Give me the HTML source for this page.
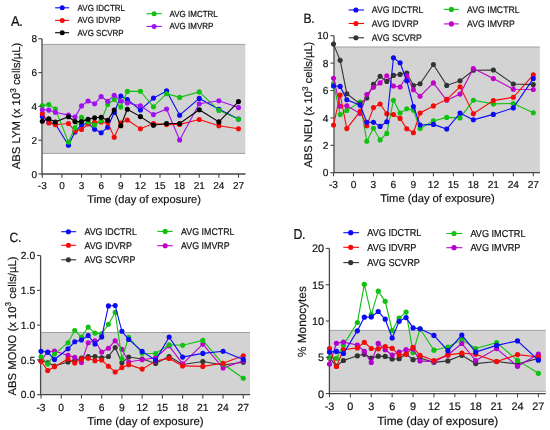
<!DOCTYPE html>
<html><head><meta charset="utf-8"><style>
html,body{margin:0;padding:0;background:#fff;width:550px;height:430px;overflow:hidden}
svg{display:block;will-change:transform}
text{text-rendering:geometricPrecision;font-family:"Liberation Sans",sans-serif;fill:#111;stroke:#111;stroke-width:0.18px}
</style></head><body>
<svg width="550" height="430" viewBox="0 0 550 430">
<rect x="42.6" y="44.4" width="202.7" height="109" fill="#d3d3d3"/>
<line x1="42.6" y1="44.4" x2="245.3" y2="44.4" stroke="#a0a0a0" stroke-width="1"/>
<line x1="42.6" y1="153.4" x2="245.3" y2="153.4" stroke="#a0a0a0" stroke-width="1"/>
<path d="M42,38.8V174H245.5" fill="none" stroke="#474747" stroke-width="1.3"/>
<polyline points="42.3,116.4 48.84,122 55.38,124 68.46,145.2 75,131.9 81.54,124.9 88.08,123 94.62,129.2 101.16,132.7 107.7,127.3 114.24,112.5 120.78,96 127.32,99.5 140.4,110 153.48,98.1 166.56,90.9 179.64,115.2 199.26,98.4 218.88,109.3 238.5,119" fill="none" stroke="#0a0af5" stroke-width="1.1"/>
<circle cx="42.3" cy="116.4" r="2.55" fill="#0a0af5"/>
<circle cx="48.84" cy="122" r="2.55" fill="#0a0af5"/>
<circle cx="55.38" cy="124" r="2.55" fill="#0a0af5"/>
<circle cx="68.46" cy="145.2" r="2.55" fill="#0a0af5"/>
<circle cx="75" cy="131.9" r="2.55" fill="#0a0af5"/>
<circle cx="81.54" cy="124.9" r="2.55" fill="#0a0af5"/>
<circle cx="88.08" cy="123" r="2.55" fill="#0a0af5"/>
<circle cx="94.62" cy="129.2" r="2.55" fill="#0a0af5"/>
<circle cx="101.16" cy="132.7" r="2.55" fill="#0a0af5"/>
<circle cx="107.7" cy="127.3" r="2.55" fill="#0a0af5"/>
<circle cx="114.24" cy="112.5" r="2.55" fill="#0a0af5"/>
<circle cx="120.78" cy="96" r="2.55" fill="#0a0af5"/>
<circle cx="127.32" cy="99.5" r="2.55" fill="#0a0af5"/>
<circle cx="140.4" cy="110" r="2.55" fill="#0a0af5"/>
<circle cx="153.48" cy="98.1" r="2.55" fill="#0a0af5"/>
<circle cx="166.56" cy="90.9" r="2.55" fill="#0a0af5"/>
<circle cx="179.64" cy="115.2" r="2.55" fill="#0a0af5"/>
<circle cx="199.26" cy="98.4" r="2.55" fill="#0a0af5"/>
<circle cx="218.88" cy="109.3" r="2.55" fill="#0a0af5"/>
<circle cx="238.5" cy="119" r="2.55" fill="#0a0af5"/>
<polyline points="42.3,113.6 48.84,123 55.38,124.8 68.46,123.5 75,130.9 81.54,129.5 88.08,124 94.62,122.2 101.16,122 107.7,122.8 114.24,137.2 120.78,123 127.32,120 140.4,128.7 153.48,123.5 166.56,124.6 179.64,124.4 199.26,119.5 218.88,125.8 238.5,128.8" fill="none" stroke="#f50a0a" stroke-width="1.1"/>
<circle cx="42.3" cy="113.6" r="2.55" fill="#f50a0a"/>
<circle cx="48.84" cy="123" r="2.55" fill="#f50a0a"/>
<circle cx="55.38" cy="124.8" r="2.55" fill="#f50a0a"/>
<circle cx="68.46" cy="123.5" r="2.55" fill="#f50a0a"/>
<circle cx="75" cy="130.9" r="2.55" fill="#f50a0a"/>
<circle cx="81.54" cy="129.5" r="2.55" fill="#f50a0a"/>
<circle cx="88.08" cy="124" r="2.55" fill="#f50a0a"/>
<circle cx="94.62" cy="122.2" r="2.55" fill="#f50a0a"/>
<circle cx="101.16" cy="122" r="2.55" fill="#f50a0a"/>
<circle cx="107.7" cy="122.8" r="2.55" fill="#f50a0a"/>
<circle cx="114.24" cy="137.2" r="2.55" fill="#f50a0a"/>
<circle cx="120.78" cy="123" r="2.55" fill="#f50a0a"/>
<circle cx="127.32" cy="120" r="2.55" fill="#f50a0a"/>
<circle cx="140.4" cy="128.7" r="2.55" fill="#f50a0a"/>
<circle cx="153.48" cy="123.5" r="2.55" fill="#f50a0a"/>
<circle cx="166.56" cy="124.6" r="2.55" fill="#f50a0a"/>
<circle cx="179.64" cy="124.4" r="2.55" fill="#f50a0a"/>
<circle cx="199.26" cy="119.5" r="2.55" fill="#f50a0a"/>
<circle cx="218.88" cy="125.8" r="2.55" fill="#f50a0a"/>
<circle cx="238.5" cy="128.8" r="2.55" fill="#f50a0a"/>
<polyline points="42.3,105.6 48.84,104.5 55.38,109.1 68.46,142.1 75,127.7 81.54,117.3 88.08,122 94.62,125.1 101.16,120.8 107.7,104.5 114.24,99.5 120.78,107.1 127.32,91.4 140.4,91.2 153.48,106.8 166.56,93.7 179.64,97.4 199.26,91.9 218.88,110.4 238.5,119.3" fill="none" stroke="#12c012" stroke-width="1.1"/>
<circle cx="42.3" cy="105.6" r="2.55" fill="#12c012"/>
<circle cx="48.84" cy="104.5" r="2.55" fill="#12c012"/>
<circle cx="55.38" cy="109.1" r="2.55" fill="#12c012"/>
<circle cx="68.46" cy="142.1" r="2.55" fill="#12c012"/>
<circle cx="75" cy="127.7" r="2.55" fill="#12c012"/>
<circle cx="81.54" cy="117.3" r="2.55" fill="#12c012"/>
<circle cx="88.08" cy="122" r="2.55" fill="#12c012"/>
<circle cx="94.62" cy="125.1" r="2.55" fill="#12c012"/>
<circle cx="101.16" cy="120.8" r="2.55" fill="#12c012"/>
<circle cx="107.7" cy="104.5" r="2.55" fill="#12c012"/>
<circle cx="114.24" cy="99.5" r="2.55" fill="#12c012"/>
<circle cx="120.78" cy="107.1" r="2.55" fill="#12c012"/>
<circle cx="127.32" cy="91.4" r="2.55" fill="#12c012"/>
<circle cx="140.4" cy="91.2" r="2.55" fill="#12c012"/>
<circle cx="153.48" cy="106.8" r="2.55" fill="#12c012"/>
<circle cx="166.56" cy="93.7" r="2.55" fill="#12c012"/>
<circle cx="179.64" cy="97.4" r="2.55" fill="#12c012"/>
<circle cx="199.26" cy="91.9" r="2.55" fill="#12c012"/>
<circle cx="218.88" cy="110.4" r="2.55" fill="#12c012"/>
<circle cx="238.5" cy="119.3" r="2.55" fill="#12c012"/>
<polyline points="42.3,109.8 48.84,110.1 55.38,112.2 68.46,115.1 75,117 81.54,105.9 88.08,101 94.62,103.8 101.16,96.6 107.7,101.3 114.24,95.2 120.78,101 127.32,103 140.4,105.8 153.48,114.6 166.56,109 179.64,140 199.26,103.7 218.88,100.7 238.5,107.6" fill="none" stroke="#a010f0" stroke-width="1.1"/>
<circle cx="42.3" cy="109.8" r="2.55" fill="#a010f0"/>
<circle cx="48.84" cy="110.1" r="2.55" fill="#a010f0"/>
<circle cx="55.38" cy="112.2" r="2.55" fill="#a010f0"/>
<circle cx="68.46" cy="115.1" r="2.55" fill="#a010f0"/>
<circle cx="75" cy="117" r="2.55" fill="#a010f0"/>
<circle cx="81.54" cy="105.9" r="2.55" fill="#a010f0"/>
<circle cx="88.08" cy="101" r="2.55" fill="#a010f0"/>
<circle cx="94.62" cy="103.8" r="2.55" fill="#a010f0"/>
<circle cx="101.16" cy="96.6" r="2.55" fill="#a010f0"/>
<circle cx="107.7" cy="101.3" r="2.55" fill="#a010f0"/>
<circle cx="114.24" cy="95.2" r="2.55" fill="#a010f0"/>
<circle cx="120.78" cy="101" r="2.55" fill="#a010f0"/>
<circle cx="127.32" cy="103" r="2.55" fill="#a010f0"/>
<circle cx="140.4" cy="105.8" r="2.55" fill="#a010f0"/>
<circle cx="153.48" cy="114.6" r="2.55" fill="#a010f0"/>
<circle cx="166.56" cy="109" r="2.55" fill="#a010f0"/>
<circle cx="179.64" cy="140" r="2.55" fill="#a010f0"/>
<circle cx="199.26" cy="103.7" r="2.55" fill="#a010f0"/>
<circle cx="218.88" cy="100.7" r="2.55" fill="#a010f0"/>
<circle cx="238.5" cy="107.6" r="2.55" fill="#a010f0"/>
<polyline points="42.3,121.3 48.84,118.8 55.38,122 68.46,116.7 75,121.6 81.54,121.6 88.08,119.2 94.62,117.8 101.16,117.3 107.7,120.2 114.24,110 120.78,125.8 127.32,109.2 140.4,116.6 153.48,125.3 166.56,123.5 179.64,123.5 199.26,109.7 218.88,121.9 238.5,101.6" fill="none" stroke="#000000" stroke-width="1.1"/>
<circle cx="42.3" cy="121.3" r="2.55" fill="#000000"/>
<circle cx="48.84" cy="118.8" r="2.55" fill="#000000"/>
<circle cx="55.38" cy="122" r="2.55" fill="#000000"/>
<circle cx="68.46" cy="116.7" r="2.55" fill="#000000"/>
<circle cx="75" cy="121.6" r="2.55" fill="#000000"/>
<circle cx="81.54" cy="121.6" r="2.55" fill="#000000"/>
<circle cx="88.08" cy="119.2" r="2.55" fill="#000000"/>
<circle cx="94.62" cy="117.8" r="2.55" fill="#000000"/>
<circle cx="101.16" cy="117.3" r="2.55" fill="#000000"/>
<circle cx="107.7" cy="120.2" r="2.55" fill="#000000"/>
<circle cx="114.24" cy="110" r="2.55" fill="#000000"/>
<circle cx="120.78" cy="125.8" r="2.55" fill="#000000"/>
<circle cx="127.32" cy="109.2" r="2.55" fill="#000000"/>
<circle cx="140.4" cy="116.6" r="2.55" fill="#000000"/>
<circle cx="153.48" cy="125.3" r="2.55" fill="#000000"/>
<circle cx="166.56" cy="123.5" r="2.55" fill="#000000"/>
<circle cx="179.64" cy="123.5" r="2.55" fill="#000000"/>
<circle cx="199.26" cy="109.7" r="2.55" fill="#000000"/>
<circle cx="218.88" cy="121.9" r="2.55" fill="#000000"/>
<circle cx="238.5" cy="101.6" r="2.55" fill="#000000"/>
<line x1="38.4" y1="174" x2="42" y2="174" stroke="#474747" stroke-width="1.1"/>
<text x="37" y="177.58" font-size="10.0" text-anchor="end">0</text>
<line x1="38.4" y1="140.2" x2="42" y2="140.2" stroke="#474747" stroke-width="1.1"/>
<text x="37" y="143.78" font-size="10.0" text-anchor="end">2</text>
<line x1="38.4" y1="106.4" x2="42" y2="106.4" stroke="#474747" stroke-width="1.1"/>
<text x="37" y="109.98" font-size="10.0" text-anchor="end">4</text>
<line x1="38.4" y1="72.6" x2="42" y2="72.6" stroke="#474747" stroke-width="1.1"/>
<text x="37" y="76.18" font-size="10.0" text-anchor="end">6</text>
<line x1="38.4" y1="38.8" x2="42" y2="38.8" stroke="#474747" stroke-width="1.1"/>
<text x="37" y="42.38" font-size="10.0" text-anchor="end">8</text>
<line x1="42.3" y1="174" x2="42.3" y2="177.7" stroke="#474747" stroke-width="1.1"/>
<text x="42.3" y="188.58" font-size="10.0" text-anchor="middle">-3</text>
<line x1="61.92" y1="174" x2="61.92" y2="177.7" stroke="#474747" stroke-width="1.1"/>
<text x="61.92" y="188.58" font-size="10.0" text-anchor="middle">0</text>
<line x1="81.54" y1="174" x2="81.54" y2="177.7" stroke="#474747" stroke-width="1.1"/>
<text x="81.54" y="188.58" font-size="10.0" text-anchor="middle">3</text>
<line x1="101.16" y1="174" x2="101.16" y2="177.7" stroke="#474747" stroke-width="1.1"/>
<text x="101.16" y="188.58" font-size="10.0" text-anchor="middle">6</text>
<line x1="120.78" y1="174" x2="120.78" y2="177.7" stroke="#474747" stroke-width="1.1"/>
<text x="120.78" y="188.58" font-size="10.0" text-anchor="middle">9</text>
<line x1="140.4" y1="174" x2="140.4" y2="177.7" stroke="#474747" stroke-width="1.1"/>
<text x="140.4" y="188.58" font-size="10.0" text-anchor="middle">12</text>
<line x1="160.02" y1="174" x2="160.02" y2="177.7" stroke="#474747" stroke-width="1.1"/>
<text x="160.02" y="188.58" font-size="10.0" text-anchor="middle">15</text>
<line x1="179.64" y1="174" x2="179.64" y2="177.7" stroke="#474747" stroke-width="1.1"/>
<text x="179.64" y="188.58" font-size="10.0" text-anchor="middle">18</text>
<line x1="199.26" y1="174" x2="199.26" y2="177.7" stroke="#474747" stroke-width="1.1"/>
<text x="199.26" y="188.58" font-size="10.0" text-anchor="middle">21</text>
<line x1="218.88" y1="174" x2="218.88" y2="177.7" stroke="#474747" stroke-width="1.1"/>
<text x="218.88" y="188.58" font-size="10.0" text-anchor="middle">24</text>
<line x1="238.5" y1="174" x2="238.5" y2="177.7" stroke="#474747" stroke-width="1.1"/>
<text x="238.5" y="188.58" font-size="10.0" text-anchor="middle">27</text>
<rect x="334.5" y="47" width="205.3" height="125.6" fill="#d3d3d3"/>
<line x1="334.5" y1="47" x2="539.8" y2="47" stroke="#a0a0a0" stroke-width="1"/>
<path d="M334,35.7V172.6H540" fill="none" stroke="#474747" stroke-width="1.3"/>
<polyline points="333.5,83.5 340.16,114.5 346.82,110.4 360.14,102.1 366.8,141.2 373.46,128.3 380.12,139.9 386.78,133.4 393.44,100.2 400.1,113.1 406.76,108.8 413.42,110.3 420.08,128.4 433.4,120.9 446.72,117.4 460.04,117.9 473.36,100.3 493.34,103.9 513.32,103.5 533.3,112.8" fill="none" stroke="#12c012" stroke-width="1.1"/>
<circle cx="333.5" cy="83.5" r="2.55" fill="#12c012"/>
<circle cx="340.16" cy="114.5" r="2.55" fill="#12c012"/>
<circle cx="346.82" cy="110.4" r="2.55" fill="#12c012"/>
<circle cx="360.14" cy="102.1" r="2.55" fill="#12c012"/>
<circle cx="366.8" cy="141.2" r="2.55" fill="#12c012"/>
<circle cx="373.46" cy="128.3" r="2.55" fill="#12c012"/>
<circle cx="380.12" cy="139.9" r="2.55" fill="#12c012"/>
<circle cx="386.78" cy="133.4" r="2.55" fill="#12c012"/>
<circle cx="393.44" cy="100.2" r="2.55" fill="#12c012"/>
<circle cx="400.1" cy="113.1" r="2.55" fill="#12c012"/>
<circle cx="406.76" cy="108.8" r="2.55" fill="#12c012"/>
<circle cx="413.42" cy="110.3" r="2.55" fill="#12c012"/>
<circle cx="420.08" cy="128.4" r="2.55" fill="#12c012"/>
<circle cx="433.4" cy="120.9" r="2.55" fill="#12c012"/>
<circle cx="446.72" cy="117.4" r="2.55" fill="#12c012"/>
<circle cx="460.04" cy="117.9" r="2.55" fill="#12c012"/>
<circle cx="473.36" cy="100.3" r="2.55" fill="#12c012"/>
<circle cx="493.34" cy="103.9" r="2.55" fill="#12c012"/>
<circle cx="513.32" cy="103.5" r="2.55" fill="#12c012"/>
<circle cx="533.3" cy="112.8" r="2.55" fill="#12c012"/>
<polyline points="333.5,44.1 340.16,60.3 346.82,93.7 360.14,104 366.8,98 373.46,84.3 380.12,76.2 386.78,81.4 393.44,75.4 400.1,74.4 406.76,73 413.42,85.6 420.08,83.8 433.4,64.5 446.72,85.4 460.04,80.8 473.36,70.3 493.34,70 513.32,84 533.3,84.6" fill="none" stroke="#333333" stroke-width="1.1"/>
<circle cx="333.5" cy="44.1" r="2.55" fill="#333333"/>
<circle cx="340.16" cy="60.3" r="2.55" fill="#333333"/>
<circle cx="346.82" cy="93.7" r="2.55" fill="#333333"/>
<circle cx="360.14" cy="104" r="2.55" fill="#333333"/>
<circle cx="366.8" cy="98" r="2.55" fill="#333333"/>
<circle cx="373.46" cy="84.3" r="2.55" fill="#333333"/>
<circle cx="380.12" cy="76.2" r="2.55" fill="#333333"/>
<circle cx="386.78" cy="81.4" r="2.55" fill="#333333"/>
<circle cx="393.44" cy="75.4" r="2.55" fill="#333333"/>
<circle cx="400.1" cy="74.4" r="2.55" fill="#333333"/>
<circle cx="406.76" cy="73" r="2.55" fill="#333333"/>
<circle cx="413.42" cy="85.6" r="2.55" fill="#333333"/>
<circle cx="420.08" cy="83.8" r="2.55" fill="#333333"/>
<circle cx="433.4" cy="64.5" r="2.55" fill="#333333"/>
<circle cx="446.72" cy="85.4" r="2.55" fill="#333333"/>
<circle cx="460.04" cy="80.8" r="2.55" fill="#333333"/>
<circle cx="473.36" cy="70.3" r="2.55" fill="#333333"/>
<circle cx="493.34" cy="70" r="2.55" fill="#333333"/>
<circle cx="513.32" cy="84" r="2.55" fill="#333333"/>
<circle cx="533.3" cy="84.6" r="2.55" fill="#333333"/>
<polyline points="333.5,78.3 340.16,106.2 346.82,105.7 360.14,113.5 366.8,94.6 373.46,87.3 380.12,82.9 386.78,75.8 393.44,86 400.1,87 406.76,75.8 413.42,89.8 420.08,96.2 433.4,82.9 446.72,100.3 460.04,94.1 473.36,68.5 493.34,78.6 513.32,89.2 533.3,89.5" fill="none" stroke="#c000c8" stroke-width="1.1"/>
<circle cx="333.5" cy="78.3" r="2.55" fill="#c000c8"/>
<circle cx="340.16" cy="106.2" r="2.55" fill="#c000c8"/>
<circle cx="346.82" cy="105.7" r="2.55" fill="#c000c8"/>
<circle cx="360.14" cy="113.5" r="2.55" fill="#c000c8"/>
<circle cx="366.8" cy="94.6" r="2.55" fill="#c000c8"/>
<circle cx="373.46" cy="87.3" r="2.55" fill="#c000c8"/>
<circle cx="380.12" cy="82.9" r="2.55" fill="#c000c8"/>
<circle cx="386.78" cy="75.8" r="2.55" fill="#c000c8"/>
<circle cx="393.44" cy="86" r="2.55" fill="#c000c8"/>
<circle cx="400.1" cy="87" r="2.55" fill="#c000c8"/>
<circle cx="406.76" cy="75.8" r="2.55" fill="#c000c8"/>
<circle cx="413.42" cy="89.8" r="2.55" fill="#c000c8"/>
<circle cx="420.08" cy="96.2" r="2.55" fill="#c000c8"/>
<circle cx="433.4" cy="82.9" r="2.55" fill="#c000c8"/>
<circle cx="446.72" cy="100.3" r="2.55" fill="#c000c8"/>
<circle cx="460.04" cy="94.1" r="2.55" fill="#c000c8"/>
<circle cx="473.36" cy="68.5" r="2.55" fill="#c000c8"/>
<circle cx="493.34" cy="78.6" r="2.55" fill="#c000c8"/>
<circle cx="513.32" cy="89.2" r="2.55" fill="#c000c8"/>
<circle cx="533.3" cy="89.5" r="2.55" fill="#c000c8"/>
<polyline points="333.5,125 340.16,95 346.82,128.6 360.14,111.3 366.8,125.7 373.46,107.6 380.12,104 386.78,113.8 393.44,114.5 400.1,118.4 406.76,128.8 413.42,132.7 420.08,113 433.4,105.9 446.72,99.4 460.04,86.8 473.36,113.7 493.34,100.6 513.32,97.3 533.3,74.9" fill="none" stroke="#f50a0a" stroke-width="1.1"/>
<circle cx="333.5" cy="125" r="2.55" fill="#f50a0a"/>
<circle cx="340.16" cy="95" r="2.55" fill="#f50a0a"/>
<circle cx="346.82" cy="128.6" r="2.55" fill="#f50a0a"/>
<circle cx="360.14" cy="111.3" r="2.55" fill="#f50a0a"/>
<circle cx="366.8" cy="125.7" r="2.55" fill="#f50a0a"/>
<circle cx="373.46" cy="107.6" r="2.55" fill="#f50a0a"/>
<circle cx="380.12" cy="104" r="2.55" fill="#f50a0a"/>
<circle cx="386.78" cy="113.8" r="2.55" fill="#f50a0a"/>
<circle cx="393.44" cy="114.5" r="2.55" fill="#f50a0a"/>
<circle cx="400.1" cy="118.4" r="2.55" fill="#f50a0a"/>
<circle cx="406.76" cy="128.8" r="2.55" fill="#f50a0a"/>
<circle cx="413.42" cy="132.7" r="2.55" fill="#f50a0a"/>
<circle cx="420.08" cy="113" r="2.55" fill="#f50a0a"/>
<circle cx="433.4" cy="105.9" r="2.55" fill="#f50a0a"/>
<circle cx="446.72" cy="99.4" r="2.55" fill="#f50a0a"/>
<circle cx="460.04" cy="86.8" r="2.55" fill="#f50a0a"/>
<circle cx="473.36" cy="113.7" r="2.55" fill="#f50a0a"/>
<circle cx="493.34" cy="100.6" r="2.55" fill="#f50a0a"/>
<circle cx="513.32" cy="97.3" r="2.55" fill="#f50a0a"/>
<circle cx="533.3" cy="74.9" r="2.55" fill="#f50a0a"/>
<polyline points="333.5,86 340.16,86.4 346.82,99.7 360.14,105.2 366.8,122.3 373.46,122.2 380.12,126.4 386.78,121.8 393.44,57.7 400.1,62.8 406.76,80.7 413.42,106.5 420.08,125 433.4,124.4 446.72,129 460.04,113.1 473.36,119.8 493.34,114.4 513.32,107.9 533.3,78.6" fill="none" stroke="#0a0af5" stroke-width="1.1"/>
<circle cx="333.5" cy="86" r="2.55" fill="#0a0af5"/>
<circle cx="340.16" cy="86.4" r="2.55" fill="#0a0af5"/>
<circle cx="346.82" cy="99.7" r="2.55" fill="#0a0af5"/>
<circle cx="360.14" cy="105.2" r="2.55" fill="#0a0af5"/>
<circle cx="366.8" cy="122.3" r="2.55" fill="#0a0af5"/>
<circle cx="373.46" cy="122.2" r="2.55" fill="#0a0af5"/>
<circle cx="380.12" cy="126.4" r="2.55" fill="#0a0af5"/>
<circle cx="386.78" cy="121.8" r="2.55" fill="#0a0af5"/>
<circle cx="393.44" cy="57.7" r="2.55" fill="#0a0af5"/>
<circle cx="400.1" cy="62.8" r="2.55" fill="#0a0af5"/>
<circle cx="406.76" cy="80.7" r="2.55" fill="#0a0af5"/>
<circle cx="413.42" cy="106.5" r="2.55" fill="#0a0af5"/>
<circle cx="420.08" cy="125" r="2.55" fill="#0a0af5"/>
<circle cx="433.4" cy="124.4" r="2.55" fill="#0a0af5"/>
<circle cx="446.72" cy="129" r="2.55" fill="#0a0af5"/>
<circle cx="460.04" cy="113.1" r="2.55" fill="#0a0af5"/>
<circle cx="473.36" cy="119.8" r="2.55" fill="#0a0af5"/>
<circle cx="493.34" cy="114.4" r="2.55" fill="#0a0af5"/>
<circle cx="513.32" cy="107.9" r="2.55" fill="#0a0af5"/>
<circle cx="533.3" cy="78.6" r="2.55" fill="#0a0af5"/>
<line x1="330.4" y1="172.7" x2="334" y2="172.7" stroke="#474747" stroke-width="1.1"/>
<text x="328.5" y="176.35" font-size="10.2" text-anchor="end">0</text>
<line x1="330.4" y1="145.3" x2="334" y2="145.3" stroke="#474747" stroke-width="1.1"/>
<text x="328.5" y="148.95" font-size="10.2" text-anchor="end">2</text>
<line x1="330.4" y1="117.9" x2="334" y2="117.9" stroke="#474747" stroke-width="1.1"/>
<text x="328.5" y="121.55" font-size="10.2" text-anchor="end">4</text>
<line x1="330.4" y1="90.5" x2="334" y2="90.5" stroke="#474747" stroke-width="1.1"/>
<text x="328.5" y="94.15" font-size="10.2" text-anchor="end">6</text>
<line x1="330.4" y1="63.1" x2="334" y2="63.1" stroke="#474747" stroke-width="1.1"/>
<text x="328.5" y="66.75" font-size="10.2" text-anchor="end">8</text>
<line x1="330.4" y1="35.7" x2="334" y2="35.7" stroke="#474747" stroke-width="1.1"/>
<text x="328.5" y="39.35" font-size="10.2" text-anchor="end">10</text>
<line x1="333.5" y1="172.6" x2="333.5" y2="176.3" stroke="#474747" stroke-width="1.1"/>
<text x="333.5" y="188.45" font-size="10.2" text-anchor="middle">-3</text>
<line x1="353.48" y1="172.6" x2="353.48" y2="176.3" stroke="#474747" stroke-width="1.1"/>
<text x="353.48" y="188.45" font-size="10.2" text-anchor="middle">0</text>
<line x1="373.46" y1="172.6" x2="373.46" y2="176.3" stroke="#474747" stroke-width="1.1"/>
<text x="373.46" y="188.45" font-size="10.2" text-anchor="middle">3</text>
<line x1="393.44" y1="172.6" x2="393.44" y2="176.3" stroke="#474747" stroke-width="1.1"/>
<text x="393.44" y="188.45" font-size="10.2" text-anchor="middle">6</text>
<line x1="413.42" y1="172.6" x2="413.42" y2="176.3" stroke="#474747" stroke-width="1.1"/>
<text x="413.42" y="188.45" font-size="10.2" text-anchor="middle">9</text>
<line x1="433.4" y1="172.6" x2="433.4" y2="176.3" stroke="#474747" stroke-width="1.1"/>
<text x="433.4" y="188.45" font-size="10.2" text-anchor="middle">12</text>
<line x1="453.38" y1="172.6" x2="453.38" y2="176.3" stroke="#474747" stroke-width="1.1"/>
<text x="453.38" y="188.45" font-size="10.2" text-anchor="middle">15</text>
<line x1="473.36" y1="172.6" x2="473.36" y2="176.3" stroke="#474747" stroke-width="1.1"/>
<text x="473.36" y="188.45" font-size="10.2" text-anchor="middle">18</text>
<line x1="493.34" y1="172.6" x2="493.34" y2="176.3" stroke="#474747" stroke-width="1.1"/>
<text x="493.34" y="188.45" font-size="10.2" text-anchor="middle">21</text>
<line x1="513.32" y1="172.6" x2="513.32" y2="176.3" stroke="#474747" stroke-width="1.1"/>
<text x="513.32" y="188.45" font-size="10.2" text-anchor="middle">24</text>
<line x1="533.3" y1="172.6" x2="533.3" y2="176.3" stroke="#474747" stroke-width="1.1"/>
<text x="533.3" y="188.45" font-size="10.2" text-anchor="middle">27</text>
<rect x="41.1" y="332.5" width="208.9" height="62.2" fill="#d3d3d3"/>
<line x1="41.1" y1="332.5" x2="250" y2="332.5" stroke="#a0a0a0" stroke-width="1"/>
<path d="M40.6,255.5V394.7H250.2" fill="none" stroke="#474747" stroke-width="1.3"/>
<polyline points="41,360.5 47.74,362.8 54.49,366 67.97,362 74.72,360.5 81.46,358 88.2,356.5 94.94,356.5 101.69,357.7 108.43,356.5 115.17,347.6 121.92,362.7 128.66,357 142.15,359 155.63,363.5 169.12,356.5 182.6,364.5 202.83,361.5 223.06,365 243.29,362.3" fill="none" stroke="#333333" stroke-width="1.1"/>
<circle cx="41" cy="360.5" r="2.55" fill="#333333"/>
<circle cx="47.74" cy="362.8" r="2.55" fill="#333333"/>
<circle cx="54.49" cy="366" r="2.55" fill="#333333"/>
<circle cx="67.97" cy="362" r="2.55" fill="#333333"/>
<circle cx="74.72" cy="360.5" r="2.55" fill="#333333"/>
<circle cx="81.46" cy="358" r="2.55" fill="#333333"/>
<circle cx="88.2" cy="356.5" r="2.55" fill="#333333"/>
<circle cx="94.94" cy="356.5" r="2.55" fill="#333333"/>
<circle cx="101.69" cy="357.7" r="2.55" fill="#333333"/>
<circle cx="108.43" cy="356.5" r="2.55" fill="#333333"/>
<circle cx="115.17" cy="347.6" r="2.55" fill="#333333"/>
<circle cx="121.92" cy="362.7" r="2.55" fill="#333333"/>
<circle cx="128.66" cy="357" r="2.55" fill="#333333"/>
<circle cx="142.15" cy="359" r="2.55" fill="#333333"/>
<circle cx="155.63" cy="363.5" r="2.55" fill="#333333"/>
<circle cx="169.12" cy="356.5" r="2.55" fill="#333333"/>
<circle cx="182.6" cy="364.5" r="2.55" fill="#333333"/>
<circle cx="202.83" cy="361.5" r="2.55" fill="#333333"/>
<circle cx="223.06" cy="365" r="2.55" fill="#333333"/>
<circle cx="243.29" cy="362.3" r="2.55" fill="#333333"/>
<polyline points="41,360.5 47.74,352 54.49,351 67.97,355.4 74.72,357.3 81.46,362.4 88.2,342.8 94.94,340.8 101.69,352.1 108.43,348.2 115.17,340.7 121.92,349.3 128.66,362 142.15,359.7 155.63,357.7 169.12,345.8 182.6,363.8 202.83,344.1 223.06,368 243.29,360.7" fill="none" stroke="#c000c8" stroke-width="1.1"/>
<circle cx="41" cy="360.5" r="2.55" fill="#c000c8"/>
<circle cx="47.74" cy="352" r="2.55" fill="#c000c8"/>
<circle cx="54.49" cy="351" r="2.55" fill="#c000c8"/>
<circle cx="67.97" cy="355.4" r="2.55" fill="#c000c8"/>
<circle cx="74.72" cy="357.3" r="2.55" fill="#c000c8"/>
<circle cx="81.46" cy="362.4" r="2.55" fill="#c000c8"/>
<circle cx="88.2" cy="342.8" r="2.55" fill="#c000c8"/>
<circle cx="94.94" cy="340.8" r="2.55" fill="#c000c8"/>
<circle cx="101.69" cy="352.1" r="2.55" fill="#c000c8"/>
<circle cx="108.43" cy="348.2" r="2.55" fill="#c000c8"/>
<circle cx="115.17" cy="340.7" r="2.55" fill="#c000c8"/>
<circle cx="121.92" cy="349.3" r="2.55" fill="#c000c8"/>
<circle cx="128.66" cy="362" r="2.55" fill="#c000c8"/>
<circle cx="142.15" cy="359.7" r="2.55" fill="#c000c8"/>
<circle cx="155.63" cy="357.7" r="2.55" fill="#c000c8"/>
<circle cx="169.12" cy="345.8" r="2.55" fill="#c000c8"/>
<circle cx="182.6" cy="363.8" r="2.55" fill="#c000c8"/>
<circle cx="202.83" cy="344.1" r="2.55" fill="#c000c8"/>
<circle cx="223.06" cy="368" r="2.55" fill="#c000c8"/>
<circle cx="243.29" cy="360.7" r="2.55" fill="#c000c8"/>
<polyline points="41,356.7 47.74,364 54.49,354.1 67.97,342.7 74.72,330.5 81.46,337 88.2,327.1 94.94,333.1 101.69,333.8 108.43,324.3 115.17,312.4 121.92,358.8 128.66,337.2 142.15,353.3 155.63,353.5 169.12,344.8 182.6,345.3 202.83,340.4 223.06,364 243.29,378.3" fill="none" stroke="#12c012" stroke-width="1.1"/>
<circle cx="41" cy="356.7" r="2.55" fill="#12c012"/>
<circle cx="47.74" cy="364" r="2.55" fill="#12c012"/>
<circle cx="54.49" cy="354.1" r="2.55" fill="#12c012"/>
<circle cx="67.97" cy="342.7" r="2.55" fill="#12c012"/>
<circle cx="74.72" cy="330.5" r="2.55" fill="#12c012"/>
<circle cx="81.46" cy="337" r="2.55" fill="#12c012"/>
<circle cx="88.2" cy="327.1" r="2.55" fill="#12c012"/>
<circle cx="94.94" cy="333.1" r="2.55" fill="#12c012"/>
<circle cx="101.69" cy="333.8" r="2.55" fill="#12c012"/>
<circle cx="108.43" cy="324.3" r="2.55" fill="#12c012"/>
<circle cx="115.17" cy="312.4" r="2.55" fill="#12c012"/>
<circle cx="121.92" cy="358.8" r="2.55" fill="#12c012"/>
<circle cx="128.66" cy="337.2" r="2.55" fill="#12c012"/>
<circle cx="142.15" cy="353.3" r="2.55" fill="#12c012"/>
<circle cx="155.63" cy="353.5" r="2.55" fill="#12c012"/>
<circle cx="169.12" cy="344.8" r="2.55" fill="#12c012"/>
<circle cx="182.6" cy="345.3" r="2.55" fill="#12c012"/>
<circle cx="202.83" cy="340.4" r="2.55" fill="#12c012"/>
<circle cx="223.06" cy="364" r="2.55" fill="#12c012"/>
<circle cx="243.29" cy="378.3" r="2.55" fill="#12c012"/>
<polyline points="41,361.2 47.74,370.5 54.49,366.8 67.97,359 74.72,362.9 81.46,359 88.2,358.2 94.94,360.8 101.69,360 108.43,366.2 115.17,372 121.92,367.6 128.66,364.7 142.15,369.1 155.63,361 169.12,358.4 182.6,365.9 202.83,366.4 223.06,363.2 243.29,355.8" fill="none" stroke="#f50a0a" stroke-width="1.1"/>
<circle cx="41" cy="361.2" r="2.55" fill="#f50a0a"/>
<circle cx="47.74" cy="370.5" r="2.55" fill="#f50a0a"/>
<circle cx="54.49" cy="366.8" r="2.55" fill="#f50a0a"/>
<circle cx="67.97" cy="359" r="2.55" fill="#f50a0a"/>
<circle cx="74.72" cy="362.9" r="2.55" fill="#f50a0a"/>
<circle cx="81.46" cy="359" r="2.55" fill="#f50a0a"/>
<circle cx="88.2" cy="358.2" r="2.55" fill="#f50a0a"/>
<circle cx="94.94" cy="360.8" r="2.55" fill="#f50a0a"/>
<circle cx="101.69" cy="360" r="2.55" fill="#f50a0a"/>
<circle cx="108.43" cy="366.2" r="2.55" fill="#f50a0a"/>
<circle cx="115.17" cy="372" r="2.55" fill="#f50a0a"/>
<circle cx="121.92" cy="367.6" r="2.55" fill="#f50a0a"/>
<circle cx="128.66" cy="364.7" r="2.55" fill="#f50a0a"/>
<circle cx="142.15" cy="369.1" r="2.55" fill="#f50a0a"/>
<circle cx="155.63" cy="361" r="2.55" fill="#f50a0a"/>
<circle cx="169.12" cy="358.4" r="2.55" fill="#f50a0a"/>
<circle cx="182.6" cy="365.9" r="2.55" fill="#f50a0a"/>
<circle cx="202.83" cy="366.4" r="2.55" fill="#f50a0a"/>
<circle cx="223.06" cy="363.2" r="2.55" fill="#f50a0a"/>
<circle cx="243.29" cy="355.8" r="2.55" fill="#f50a0a"/>
<polyline points="41,351.3 47.74,352.3 54.49,359.5 67.97,348.8 74.72,341.8 81.46,340 88.2,335.5 94.94,343.9 101.69,336.9 108.43,305.9 115.17,305.5 121.92,331.3 128.66,339.4 142.15,351.4 155.63,360.2 169.12,337 182.6,357.1 202.83,353.4 223.06,351.3 243.29,359.4" fill="none" stroke="#0a0af5" stroke-width="1.1"/>
<circle cx="41" cy="351.3" r="2.55" fill="#0a0af5"/>
<circle cx="47.74" cy="352.3" r="2.55" fill="#0a0af5"/>
<circle cx="54.49" cy="359.5" r="2.55" fill="#0a0af5"/>
<circle cx="67.97" cy="348.8" r="2.55" fill="#0a0af5"/>
<circle cx="74.72" cy="341.8" r="2.55" fill="#0a0af5"/>
<circle cx="81.46" cy="340" r="2.55" fill="#0a0af5"/>
<circle cx="88.2" cy="335.5" r="2.55" fill="#0a0af5"/>
<circle cx="94.94" cy="343.9" r="2.55" fill="#0a0af5"/>
<circle cx="101.69" cy="336.9" r="2.55" fill="#0a0af5"/>
<circle cx="108.43" cy="305.9" r="2.55" fill="#0a0af5"/>
<circle cx="115.17" cy="305.5" r="2.55" fill="#0a0af5"/>
<circle cx="121.92" cy="331.3" r="2.55" fill="#0a0af5"/>
<circle cx="128.66" cy="339.4" r="2.55" fill="#0a0af5"/>
<circle cx="142.15" cy="351.4" r="2.55" fill="#0a0af5"/>
<circle cx="155.63" cy="360.2" r="2.55" fill="#0a0af5"/>
<circle cx="169.12" cy="337" r="2.55" fill="#0a0af5"/>
<circle cx="182.6" cy="357.1" r="2.55" fill="#0a0af5"/>
<circle cx="202.83" cy="353.4" r="2.55" fill="#0a0af5"/>
<circle cx="223.06" cy="351.3" r="2.55" fill="#0a0af5"/>
<circle cx="243.29" cy="359.4" r="2.55" fill="#0a0af5"/>
<line x1="37" y1="394.7" x2="40.6" y2="394.7" stroke="#474747" stroke-width="1.1"/>
<text x="35.2" y="398.39" font-size="10.3" text-anchor="end">0.0</text>
<line x1="37" y1="359.9" x2="40.6" y2="359.9" stroke="#474747" stroke-width="1.1"/>
<text x="35.2" y="363.59" font-size="10.3" text-anchor="end">0.5</text>
<line x1="37" y1="325.1" x2="40.6" y2="325.1" stroke="#474747" stroke-width="1.1"/>
<text x="35.2" y="328.79" font-size="10.3" text-anchor="end">1.0</text>
<line x1="37" y1="290.3" x2="40.6" y2="290.3" stroke="#474747" stroke-width="1.1"/>
<text x="35.2" y="293.99" font-size="10.3" text-anchor="end">1.5</text>
<line x1="37" y1="255.5" x2="40.6" y2="255.5" stroke="#474747" stroke-width="1.1"/>
<text x="35.2" y="259.19" font-size="10.3" text-anchor="end">2.0</text>
<line x1="41" y1="394.7" x2="41" y2="398.4" stroke="#474747" stroke-width="1.1"/>
<text x="41" y="411.09" font-size="10.3" text-anchor="middle">-3</text>
<line x1="61.23" y1="394.7" x2="61.23" y2="398.4" stroke="#474747" stroke-width="1.1"/>
<text x="61.23" y="411.09" font-size="10.3" text-anchor="middle">0</text>
<line x1="81.46" y1="394.7" x2="81.46" y2="398.4" stroke="#474747" stroke-width="1.1"/>
<text x="81.46" y="411.09" font-size="10.3" text-anchor="middle">3</text>
<line x1="101.69" y1="394.7" x2="101.69" y2="398.4" stroke="#474747" stroke-width="1.1"/>
<text x="101.69" y="411.09" font-size="10.3" text-anchor="middle">6</text>
<line x1="121.92" y1="394.7" x2="121.92" y2="398.4" stroke="#474747" stroke-width="1.1"/>
<text x="121.92" y="411.09" font-size="10.3" text-anchor="middle">9</text>
<line x1="142.15" y1="394.7" x2="142.15" y2="398.4" stroke="#474747" stroke-width="1.1"/>
<text x="142.15" y="411.09" font-size="10.3" text-anchor="middle">12</text>
<line x1="162.37" y1="394.7" x2="162.37" y2="398.4" stroke="#474747" stroke-width="1.1"/>
<text x="162.37" y="411.09" font-size="10.3" text-anchor="middle">15</text>
<line x1="182.6" y1="394.7" x2="182.6" y2="398.4" stroke="#474747" stroke-width="1.1"/>
<text x="182.6" y="411.09" font-size="10.3" text-anchor="middle">18</text>
<line x1="202.83" y1="394.7" x2="202.83" y2="398.4" stroke="#474747" stroke-width="1.1"/>
<text x="202.83" y="411.09" font-size="10.3" text-anchor="middle">21</text>
<line x1="223.06" y1="394.7" x2="223.06" y2="398.4" stroke="#474747" stroke-width="1.1"/>
<text x="223.06" y="411.09" font-size="10.3" text-anchor="middle">24</text>
<line x1="243.29" y1="394.7" x2="243.29" y2="398.4" stroke="#474747" stroke-width="1.1"/>
<text x="243.29" y="411.09" font-size="10.3" text-anchor="middle">27</text>
<rect x="329.9" y="330.4" width="215.9" height="61" fill="#d3d3d3"/>
<line x1="329.9" y1="330.4" x2="545.8" y2="330.4" stroke="#a0a0a0" stroke-width="1"/>
<line x1="329.9" y1="391.4" x2="545.8" y2="391.4" stroke="#a0a0a0" stroke-width="1"/>
<path d="M329.4,248.4V393.6H545.8" fill="none" stroke="#474747" stroke-width="1.3"/>
<polyline points="329.5,358 336.46,366 343.43,360.5 357.35,355.8 364.31,354.3 371.28,358.1 378.24,356.2 385.2,356.4 392.17,359 399.13,358.7 406.09,354 413.06,359.7 420.02,358 433.94,362.3 447.87,360.9 461.8,355.3 475.72,363.6 496.61,361.5 517.5,364 538.39,358.4" fill="none" stroke="#333333" stroke-width="1.15"/>
<circle cx="329.5" cy="358" r="2.6" fill="#333333"/>
<circle cx="336.46" cy="366" r="2.6" fill="#333333"/>
<circle cx="343.43" cy="360.5" r="2.6" fill="#333333"/>
<circle cx="357.35" cy="355.8" r="2.6" fill="#333333"/>
<circle cx="364.31" cy="354.3" r="2.6" fill="#333333"/>
<circle cx="371.28" cy="358.1" r="2.6" fill="#333333"/>
<circle cx="378.24" cy="356.2" r="2.6" fill="#333333"/>
<circle cx="385.2" cy="356.4" r="2.6" fill="#333333"/>
<circle cx="392.17" cy="359" r="2.6" fill="#333333"/>
<circle cx="399.13" cy="358.7" r="2.6" fill="#333333"/>
<circle cx="406.09" cy="354" r="2.6" fill="#333333"/>
<circle cx="413.06" cy="359.7" r="2.6" fill="#333333"/>
<circle cx="420.02" cy="358" r="2.6" fill="#333333"/>
<circle cx="433.94" cy="362.3" r="2.6" fill="#333333"/>
<circle cx="447.87" cy="360.9" r="2.6" fill="#333333"/>
<circle cx="461.8" cy="355.3" r="2.6" fill="#333333"/>
<circle cx="475.72" cy="363.6" r="2.6" fill="#333333"/>
<circle cx="496.61" cy="361.5" r="2.6" fill="#333333"/>
<circle cx="517.5" cy="364" r="2.6" fill="#333333"/>
<circle cx="538.39" cy="358.4" r="2.6" fill="#333333"/>
<polyline points="329.5,357.8 336.46,358.4 343.43,345 357.35,322.5 364.31,284.3 371.28,314.6 378.24,291.2 385.2,301.3 392.17,330.6 399.13,318 406.09,312 413.06,352.6 420.02,328.8 433.94,350.2 447.87,347 461.8,339.6 475.72,348.5 496.61,342.6 517.5,360.4 538.39,373.3" fill="none" stroke="#12c012" stroke-width="1.15"/>
<circle cx="329.5" cy="357.8" r="2.6" fill="#12c012"/>
<circle cx="336.46" cy="358.4" r="2.6" fill="#12c012"/>
<circle cx="343.43" cy="345" r="2.6" fill="#12c012"/>
<circle cx="357.35" cy="322.5" r="2.6" fill="#12c012"/>
<circle cx="364.31" cy="284.3" r="2.6" fill="#12c012"/>
<circle cx="371.28" cy="314.6" r="2.6" fill="#12c012"/>
<circle cx="378.24" cy="291.2" r="2.6" fill="#12c012"/>
<circle cx="385.2" cy="301.3" r="2.6" fill="#12c012"/>
<circle cx="392.17" cy="330.6" r="2.6" fill="#12c012"/>
<circle cx="399.13" cy="318" r="2.6" fill="#12c012"/>
<circle cx="406.09" cy="312" r="2.6" fill="#12c012"/>
<circle cx="413.06" cy="352.6" r="2.6" fill="#12c012"/>
<circle cx="420.02" cy="328.8" r="2.6" fill="#12c012"/>
<circle cx="433.94" cy="350.2" r="2.6" fill="#12c012"/>
<circle cx="447.87" cy="347" r="2.6" fill="#12c012"/>
<circle cx="461.8" cy="339.6" r="2.6" fill="#12c012"/>
<circle cx="475.72" cy="348.5" r="2.6" fill="#12c012"/>
<circle cx="496.61" cy="342.6" r="2.6" fill="#12c012"/>
<circle cx="517.5" cy="360.4" r="2.6" fill="#12c012"/>
<circle cx="538.39" cy="373.3" r="2.6" fill="#12c012"/>
<polyline points="329.5,364 336.46,343.3 343.43,342.1 357.35,345 364.31,351.4 371.28,362.4 378.24,343.4 385.2,349.7 392.17,355 399.13,352 406.09,349.7 413.06,349 420.02,360.9 433.94,361.6 447.87,355 461.8,343.5 475.72,360.6 496.61,348.6 517.5,366.3 538.39,354.2" fill="none" stroke="#b000d0" stroke-width="1.15"/>
<circle cx="329.5" cy="364" r="2.6" fill="#b000d0"/>
<circle cx="336.46" cy="343.3" r="2.6" fill="#b000d0"/>
<circle cx="343.43" cy="342.1" r="2.6" fill="#b000d0"/>
<circle cx="357.35" cy="345" r="2.6" fill="#b000d0"/>
<circle cx="364.31" cy="351.4" r="2.6" fill="#b000d0"/>
<circle cx="371.28" cy="362.4" r="2.6" fill="#b000d0"/>
<circle cx="378.24" cy="343.4" r="2.6" fill="#b000d0"/>
<circle cx="385.2" cy="349.7" r="2.6" fill="#b000d0"/>
<circle cx="392.17" cy="355" r="2.6" fill="#b000d0"/>
<circle cx="399.13" cy="352" r="2.6" fill="#b000d0"/>
<circle cx="406.09" cy="349.7" r="2.6" fill="#b000d0"/>
<circle cx="413.06" cy="349" r="2.6" fill="#b000d0"/>
<circle cx="420.02" cy="360.9" r="2.6" fill="#b000d0"/>
<circle cx="433.94" cy="361.6" r="2.6" fill="#b000d0"/>
<circle cx="447.87" cy="355" r="2.6" fill="#b000d0"/>
<circle cx="461.8" cy="343.5" r="2.6" fill="#b000d0"/>
<circle cx="475.72" cy="360.6" r="2.6" fill="#b000d0"/>
<circle cx="496.61" cy="348.6" r="2.6" fill="#b000d0"/>
<circle cx="517.5" cy="366.3" r="2.6" fill="#b000d0"/>
<circle cx="538.39" cy="354.2" r="2.6" fill="#b000d0"/>
<polyline points="329.5,348.5 336.46,366.5 343.43,349.7 357.35,347.9 364.31,342.3 371.28,348.5 378.24,348.8 385.2,346.5 392.17,348.3 399.13,355 406.09,354.3 413.06,347.4 420.02,355.4 433.94,360.5 447.87,354.9 461.8,353.2 475.72,354.3 496.61,361.6 517.5,354.6 538.39,357" fill="none" stroke="#f50a0a" stroke-width="1.15"/>
<circle cx="329.5" cy="348.5" r="2.6" fill="#f50a0a"/>
<circle cx="336.46" cy="366.5" r="2.6" fill="#f50a0a"/>
<circle cx="343.43" cy="349.7" r="2.6" fill="#f50a0a"/>
<circle cx="357.35" cy="347.9" r="2.6" fill="#f50a0a"/>
<circle cx="364.31" cy="342.3" r="2.6" fill="#f50a0a"/>
<circle cx="371.28" cy="348.5" r="2.6" fill="#f50a0a"/>
<circle cx="378.24" cy="348.8" r="2.6" fill="#f50a0a"/>
<circle cx="385.2" cy="346.5" r="2.6" fill="#f50a0a"/>
<circle cx="392.17" cy="348.3" r="2.6" fill="#f50a0a"/>
<circle cx="399.13" cy="355" r="2.6" fill="#f50a0a"/>
<circle cx="406.09" cy="354.3" r="2.6" fill="#f50a0a"/>
<circle cx="413.06" cy="347.4" r="2.6" fill="#f50a0a"/>
<circle cx="420.02" cy="355.4" r="2.6" fill="#f50a0a"/>
<circle cx="433.94" cy="360.5" r="2.6" fill="#f50a0a"/>
<circle cx="447.87" cy="354.9" r="2.6" fill="#f50a0a"/>
<circle cx="461.8" cy="353.2" r="2.6" fill="#f50a0a"/>
<circle cx="475.72" cy="354.3" r="2.6" fill="#f50a0a"/>
<circle cx="496.61" cy="361.6" r="2.6" fill="#f50a0a"/>
<circle cx="517.5" cy="354.6" r="2.6" fill="#f50a0a"/>
<circle cx="538.39" cy="357" r="2.6" fill="#f50a0a"/>
<polyline points="329.5,352 336.46,351.4 343.43,353.5 357.35,330.8 364.31,317.2 371.28,316.9 378.24,311.5 385.2,319.2 392.17,338 399.13,321.3 406.09,317.6 413.06,327.9 420.02,328.8 433.94,335.4 447.87,350.7 461.8,335.1 475.72,352 496.61,345.4 517.5,340.9 538.39,360.2" fill="none" stroke="#0a0af5" stroke-width="1.15"/>
<circle cx="329.5" cy="352" r="2.6" fill="#0a0af5"/>
<circle cx="336.46" cy="351.4" r="2.6" fill="#0a0af5"/>
<circle cx="343.43" cy="353.5" r="2.6" fill="#0a0af5"/>
<circle cx="357.35" cy="330.8" r="2.6" fill="#0a0af5"/>
<circle cx="364.31" cy="317.2" r="2.6" fill="#0a0af5"/>
<circle cx="371.28" cy="316.9" r="2.6" fill="#0a0af5"/>
<circle cx="378.24" cy="311.5" r="2.6" fill="#0a0af5"/>
<circle cx="385.2" cy="319.2" r="2.6" fill="#0a0af5"/>
<circle cx="392.17" cy="338" r="2.6" fill="#0a0af5"/>
<circle cx="399.13" cy="321.3" r="2.6" fill="#0a0af5"/>
<circle cx="406.09" cy="317.6" r="2.6" fill="#0a0af5"/>
<circle cx="413.06" cy="327.9" r="2.6" fill="#0a0af5"/>
<circle cx="420.02" cy="328.8" r="2.6" fill="#0a0af5"/>
<circle cx="433.94" cy="335.4" r="2.6" fill="#0a0af5"/>
<circle cx="447.87" cy="350.7" r="2.6" fill="#0a0af5"/>
<circle cx="461.8" cy="335.1" r="2.6" fill="#0a0af5"/>
<circle cx="475.72" cy="352" r="2.6" fill="#0a0af5"/>
<circle cx="496.61" cy="345.4" r="2.6" fill="#0a0af5"/>
<circle cx="517.5" cy="340.9" r="2.6" fill="#0a0af5"/>
<circle cx="538.39" cy="360.2" r="2.6" fill="#0a0af5"/>
<line x1="325.8" y1="393.6" x2="329.4" y2="393.6" stroke="#474747" stroke-width="1.1"/>
<text x="324" y="397.5" font-size="10.9" text-anchor="end">0</text>
<line x1="325.8" y1="357.3" x2="329.4" y2="357.3" stroke="#474747" stroke-width="1.1"/>
<text x="324" y="361.2" font-size="10.9" text-anchor="end">5</text>
<line x1="325.8" y1="321" x2="329.4" y2="321" stroke="#474747" stroke-width="1.1"/>
<text x="324" y="324.9" font-size="10.9" text-anchor="end">10</text>
<line x1="325.8" y1="284.7" x2="329.4" y2="284.7" stroke="#474747" stroke-width="1.1"/>
<text x="324" y="288.6" font-size="10.9" text-anchor="end">15</text>
<line x1="325.8" y1="248.4" x2="329.4" y2="248.4" stroke="#474747" stroke-width="1.1"/>
<text x="324" y="252.3" font-size="10.9" text-anchor="end">20</text>
<line x1="329.5" y1="393.6" x2="329.5" y2="397.3" stroke="#474747" stroke-width="1.1"/>
<text x="329.5" y="410.1" font-size="10.9" text-anchor="middle">-3</text>
<line x1="350.39" y1="393.6" x2="350.39" y2="397.3" stroke="#474747" stroke-width="1.1"/>
<text x="350.39" y="410.1" font-size="10.9" text-anchor="middle">0</text>
<line x1="371.28" y1="393.6" x2="371.28" y2="397.3" stroke="#474747" stroke-width="1.1"/>
<text x="371.28" y="410.1" font-size="10.9" text-anchor="middle">3</text>
<line x1="392.17" y1="393.6" x2="392.17" y2="397.3" stroke="#474747" stroke-width="1.1"/>
<text x="392.17" y="410.1" font-size="10.9" text-anchor="middle">6</text>
<line x1="413.06" y1="393.6" x2="413.06" y2="397.3" stroke="#474747" stroke-width="1.1"/>
<text x="413.06" y="410.1" font-size="10.9" text-anchor="middle">9</text>
<line x1="433.94" y1="393.6" x2="433.94" y2="397.3" stroke="#474747" stroke-width="1.1"/>
<text x="433.94" y="410.1" font-size="10.9" text-anchor="middle">12</text>
<line x1="454.83" y1="393.6" x2="454.83" y2="397.3" stroke="#474747" stroke-width="1.1"/>
<text x="454.83" y="410.1" font-size="10.9" text-anchor="middle">15</text>
<line x1="475.72" y1="393.6" x2="475.72" y2="397.3" stroke="#474747" stroke-width="1.1"/>
<text x="475.72" y="410.1" font-size="10.9" text-anchor="middle">18</text>
<line x1="496.61" y1="393.6" x2="496.61" y2="397.3" stroke="#474747" stroke-width="1.1"/>
<text x="496.61" y="410.1" font-size="10.9" text-anchor="middle">21</text>
<line x1="517.5" y1="393.6" x2="517.5" y2="397.3" stroke="#474747" stroke-width="1.1"/>
<text x="517.5" y="410.1" font-size="10.9" text-anchor="middle">24</text>
<line x1="538.39" y1="393.6" x2="538.39" y2="397.3" stroke="#474747" stroke-width="1.1"/>
<text x="538.39" y="410.1" font-size="10.9" text-anchor="middle">27</text>
<line x1="55.1" y1="7.8" x2="69.1" y2="7.8" stroke="#0a0af5" stroke-width="1.1"/>
<circle cx="62.2" cy="7.8" r="2.5" fill="#0a0af5"/>
<text transform="translate(77.6 7.8) scale(1 1.1)" x="0" y="2.76" font-size="8.0">AVG IDCTRL</text>
<line x1="55.1" y1="20.4" x2="69.1" y2="20.4" stroke="#f50a0a" stroke-width="1.1"/>
<circle cx="62.2" cy="20.4" r="2.5" fill="#f50a0a"/>
<text transform="translate(77.6 20.4) scale(1 1.1)" x="0" y="2.76" font-size="8.0">AVG IDVRP</text>
<line x1="55.1" y1="32.7" x2="69.1" y2="32.7" stroke="#000000" stroke-width="1.1"/>
<circle cx="62.2" cy="32.7" r="2.5" fill="#000000"/>
<text transform="translate(77.6 32.7) scale(1 1.1)" x="0" y="2.76" font-size="8.0">AVG SCVRP</text>
<line x1="146.5" y1="13.7" x2="161.8" y2="13.7" stroke="#12c012" stroke-width="1.1"/>
<circle cx="154.1" cy="13.7" r="2.5" fill="#12c012"/>
<text transform="translate(169.5 13.7) scale(1 1.1)" x="0" y="2.76" font-size="8.0">AVG IMCTRL</text>
<line x1="146.5" y1="26.4" x2="161.8" y2="26.4" stroke="#a010f0" stroke-width="1.1"/>
<circle cx="154.1" cy="26.4" r="2.5" fill="#a010f0"/>
<text transform="translate(169.5 26.4) scale(1 1.1)" x="0" y="2.76" font-size="8.0">AVG IMVRP</text>
<line x1="348.7" y1="10" x2="364" y2="10" stroke="#0a0af5" stroke-width="1.1"/>
<circle cx="355.9" cy="10" r="2.55" fill="#0a0af5"/>
<text transform="translate(371.8 10) scale(1 1.1)" x="0" y="3" font-size="8.7">AVG IDCTRL</text>
<line x1="348.7" y1="23.5" x2="364" y2="23.5" stroke="#f50a0a" stroke-width="1.1"/>
<circle cx="355.9" cy="23.5" r="2.55" fill="#f50a0a"/>
<text transform="translate(371.8 23.5) scale(1 1.1)" x="0" y="3" font-size="8.7">AVG IDVRP</text>
<line x1="348.7" y1="37.8" x2="364" y2="37.8" stroke="#333333" stroke-width="1.1"/>
<circle cx="355.9" cy="37.8" r="2.55" fill="#333333"/>
<text transform="translate(371.8 37.8) scale(1 1.1)" x="0" y="3" font-size="8.7">AVG SCVRP</text>
<line x1="443.8" y1="9.4" x2="458.8" y2="9.4" stroke="#12c012" stroke-width="1.1"/>
<circle cx="451.4" cy="9.4" r="2.55" fill="#12c012"/>
<text transform="translate(467.1 9.4) scale(1 1.1)" x="0" y="3" font-size="8.7">AVG IMCTRL</text>
<line x1="443.8" y1="23.9" x2="458.8" y2="23.9" stroke="#c000c8" stroke-width="1.1"/>
<circle cx="451.4" cy="23.9" r="2.55" fill="#c000c8"/>
<text transform="translate(467.1 23.9) scale(1 1.1)" x="0" y="3" font-size="8.7">AVG IMVRP</text>
<line x1="61.2" y1="231.7" x2="76.2" y2="231.7" stroke="#0a0af5" stroke-width="1.1"/>
<circle cx="68.4" cy="231.7" r="2.55" fill="#0a0af5"/>
<text transform="translate(84.4 231.7) scale(1 1.1)" x="0" y="3.05" font-size="8.85">AVG IDCTRL</text>
<line x1="61.2" y1="245.3" x2="76.2" y2="245.3" stroke="#f50a0a" stroke-width="1.1"/>
<circle cx="68.4" cy="245.3" r="2.55" fill="#f50a0a"/>
<text transform="translate(84.4 245.3) scale(1 1.1)" x="0" y="3.05" font-size="8.85">AVG IDVRP</text>
<line x1="61.2" y1="259.8" x2="76.2" y2="259.8" stroke="#333333" stroke-width="1.1"/>
<circle cx="68.4" cy="259.8" r="2.55" fill="#333333"/>
<text transform="translate(84.4 259.8) scale(1 1.1)" x="0" y="3.05" font-size="8.85">AVG SCVRP</text>
<line x1="157.3" y1="231.4" x2="172.7" y2="231.4" stroke="#12c012" stroke-width="1.1"/>
<circle cx="165.2" cy="231.4" r="2.55" fill="#12c012"/>
<text transform="translate(181.1 231.4) scale(1 1.1)" x="0" y="3.05" font-size="8.85">AVG IMCTRL</text>
<line x1="157.3" y1="245.7" x2="172.7" y2="245.7" stroke="#c000c8" stroke-width="1.1"/>
<circle cx="165.2" cy="245.7" r="2.55" fill="#c000c8"/>
<text transform="translate(181.1 245.7) scale(1 1.1)" x="0" y="3.05" font-size="8.85">AVG IMVRP</text>
<line x1="343.3" y1="232.7" x2="359.1" y2="232.7" stroke="#0a0af5" stroke-width="1.1"/>
<circle cx="350.7" cy="232.7" r="2.6" fill="#0a0af5"/>
<text transform="translate(367.3 232.7) scale(1 1.1)" x="0" y="3.16" font-size="9.15">AVG IDCTRL</text>
<line x1="343.3" y1="247.3" x2="359.1" y2="247.3" stroke="#f50a0a" stroke-width="1.1"/>
<circle cx="350.7" cy="247.3" r="2.6" fill="#f50a0a"/>
<text transform="translate(367.3 247.3) scale(1 1.1)" x="0" y="3.16" font-size="9.15">AVG IDVRP</text>
<line x1="343.3" y1="262.6" x2="359.1" y2="262.6" stroke="#333333" stroke-width="1.1"/>
<circle cx="350.7" cy="262.6" r="2.6" fill="#333333"/>
<text transform="translate(367.3 262.6) scale(1 1.1)" x="0" y="3.16" font-size="9.15">AVG SCVRP</text>
<line x1="446.4" y1="233.5" x2="462.3" y2="233.5" stroke="#12c012" stroke-width="1.1"/>
<circle cx="454" cy="233.5" r="2.6" fill="#12c012"/>
<text transform="translate(470.4 233.5) scale(1 1.1)" x="0" y="3.16" font-size="9.15">AVG IMCTRL</text>
<line x1="446.4" y1="247.7" x2="462.3" y2="247.7" stroke="#b000d0" stroke-width="1.1"/>
<circle cx="454" cy="247.7" r="2.6" fill="#b000d0"/>
<text transform="translate(470.4 247.7) scale(1 1.1)" x="0" y="3.16" font-size="9.15">AVG IMVRP</text>
<text transform="translate(11 25.6) scale(1 1.1)" font-size="13.0" letter-spacing="-0.4">A.</text>
<text transform="translate(303.6 22.9) scale(1 1.1)" font-size="12.2" letter-spacing="-0.4">B.</text>
<text transform="translate(9.5 242.3) scale(1 1.1)" font-size="12.2" letter-spacing="-0.4">C.</text>
<text transform="translate(293.6 238.8) scale(1 1.17)" font-size="12.3" letter-spacing="-0.4">D.</text>
<text x="87.3" y="203.4" font-size="11.1">Time (day of exposure)</text>
<text x="380.2" y="201.6" font-size="11.2">Time (day of exposure)</text>
<text x="87.3" y="424.7" font-size="11.35">Time (day of exposure)</text>
<text x="377.3" y="424.6" font-size="11.8">Time (day of exposure)</text>
<text x="20.3" y="169.2" font-size="11.3" transform="rotate(-90 20.3 169.2)">ABS LYM (x 10<tspan font-size="8.36" dy="-4.52">3</tspan><tspan dy="4.52"> cells/µL)</tspan></text>
<text x="312" y="167.7" font-size="11.14" transform="rotate(-90 312 167.7)">ABS NEU (x 10<tspan font-size="8.24" dy="-4.46">3</tspan><tspan dy="4.46"> cells/µL)</tspan></text>
<text x="15.6" y="395.4" font-size="11.28" transform="rotate(-90 15.6 395.4)">ABS MONO (x 10<tspan font-size="8.35" dy="-4.51">3</tspan><tspan dy="4.51"> cells/µL)</tspan></text>
<text x="306" y="357" font-size="11.8" transform="rotate(-90 306 357)">% Monocytes</text>
</svg>
</body></html>
